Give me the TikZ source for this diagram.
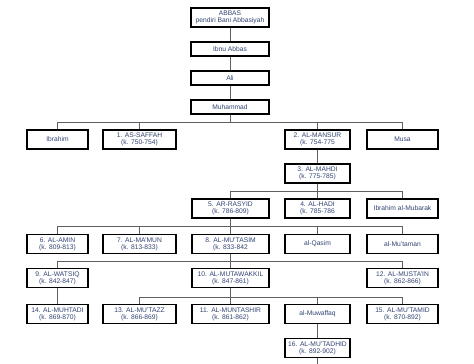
\documentclass[tikz,border=0pt]{standalone}
\usepackage{fontspec}
\setmainfont{Liberation Sans}
\definecolor{txtblue}{RGB}{50,68,115}
\definecolor{conngray}{RGB}{95,95,95}
\begin{document}
\begin{tikzpicture}[x=1pt,y=-1pt,
  box/.style={draw=black,line width=1.3pt,fill=white,inner sep=0pt,align=center,
    text=txtblue,font=\fontsize{6.7}{7}\selectfont,minimum height=19pt},
  w1/.style={box,minimum width=61pt},
  w2/.style={box,minimum width=73pt},
  w3/.style={box,minimum width=77pt},
  w4/.style={box,minimum width=65pt},
  w5/.style={box,minimum width=71pt},
  conn/.style={draw=conngray,line width=0.9pt}]
\useasboundingbox (0,0) rectangle (474,364);
\fill[white] (0,0) rectangle (474,364);
% bus coordinates
\coordinate (busA) at (0,122);
\coordinate (busM) at (0,191);
\coordinate (busB) at (0,226);
\coordinate (busC) at (0,261);
\coordinate (busD) at (0,297);
\coordinate (bottomend) at (317.5,364);
% top chain
\node[box,minimum width=78pt] (abbas) at (230,17.5) {ABBAS\\pendiri Bani Abbasiyah};
\node[box,minimum width=78pt,minimum height=14pt] (ibnu) at (230,49) {Ibnu Abbas};
\node[box,minimum width=78pt,minimum height=14pt] (ali) at (230,78) {Ali};
\node[box,minimum width=78pt,minimum height=14pt] (muh) at (230,107) {Muhammad};
% row A
\node[w1] (ibrahim) at (57.5,139.5) {Ibrahim};
\node[w2] (saffah) at (139.5,139.5) {1. AS-SAFFAH\\(k. 750-754)};
\node[w4] (mansur) at (317.5,139.5) {2. AL-MANSUR\\(k. 754-775};
\node[w5] (musa) at (402.5,139.5) {Musa};
% mahdi
\node[w4] (mahdi) at (317.5,173.5) {3. AL-MAHDI\\(k. 775-785)};
% row B
\node[w3] (rasyid) at (230.5,208.5) {5. AR-RASYID\\(k. 786-809)};
\node[w4] (hadi) at (317.5,208.5) {4. AL-HADI\\(k. 785-786};
\node[w5] (mubarak) at (402.5,208.5) {Ibrahim al-Mubarak};
% row C
\node[w1] (amin) at (57.5,244) {6. AL-AMIN\\(k. 809-813)};
\node[w2] (mamun) at (139.5,244) {7. AL-MA'MUN\\(k. 813-833)};
\node[w3] (mutasim) at (230.5,244) {8. AL-MU'TASIM\\(k. 833-842};
\node[w4] (qasim) at (317.5,244) {al-Qasim};
\node[w5] (mutaman) at (402.5,244) {al-Mu'taman};
% row D
\node[w1] (watsiq) at (57.5,278) {9. AL-WATSIQ\\(k. 842-847)};
\node[w3] (mutawakkil) at (230.5,278) {10. AL-MUTAWAKKIL\\(k. 847-861)};
\node[w5] (mustain) at (402.5,278) {12. AL-MUSTA'IN\\(k. 862-866)};
% row E
\node[w1] (muhtadi) at (57.5,314) {14. AL-MUHTADI\\(k. 869-870)};
\node[w2] (mutazz) at (139.5,314) {13. AL-MU'TAZZ\\(k. 866-869)};
\node[w3] (muntashir) at (230.5,314) {11. AL-MUNTASHIR\\(k. 861-862)};
\node[w4] (muwaffaq) at (317.5,314) {al-Muwaffaq};
\node[w5] (mutamid) at (402.5,314) {15. AL-MU'TAMID\\(k. 870-892)};
% 16
\node[w4] (mutadhid) at (317.5,348) {16. AL-MU'TADHID\\(k. 892-902)};
% connectors
\draw[conn] (abbas.south) -- (ibnu.north);
\draw[conn] (ibnu.south) -- (ali.north);
\draw[conn] (ali.south) -- (muh.north);
\foreach \c in {ibrahim,saffah,mansur,musa}
  \draw[conn] (muh.south) -- (muh.south |- busA) -| (\c.north);
\draw[conn] (mansur.south) -- (mahdi.north);
\foreach \c in {rasyid,hadi,mubarak}
  \draw[conn] (mahdi.south) -- (mahdi.south |- busM) -| (\c.north);
\foreach \c in {amin,mamun,mutasim,qasim,mutaman}
  \draw[conn] (rasyid.south) -- (rasyid.south |- busB) -| (\c.north);
\foreach \c in {watsiq,mutawakkil,mustain}
  \draw[conn] (mutasim.south) -- (mutasim.south |- busC) -| (\c.north);
\draw[conn] (watsiq.south) -- (muhtadi.north);
\foreach \c in {mutazz,muntashir,muwaffaq,mutamid}
  \draw[conn] (mutawakkil.south) -- (mutawakkil.south |- busD) -| (\c.north);
\draw[conn] (muwaffaq.south) -- (mutadhid.north);
\draw[conn] (mutadhid.south) -- (bottomend);
\end{tikzpicture}
\end{document}
